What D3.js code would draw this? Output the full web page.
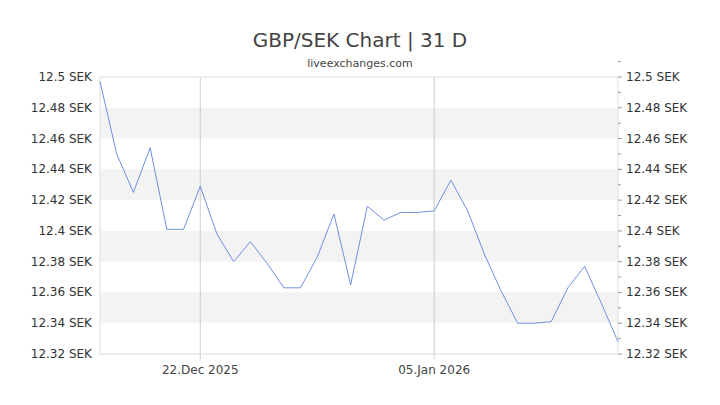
<!DOCTYPE html><html><head><meta charset="utf-8"><script src="https://cdn.jsdelivr.net/npm/d3@7"></script>
<style>body{margin:0;background:#fff;font-family:"DejaVu Sans",sans-serif}</style></head><body><svg id="c" width="720" height="405"></svg>
<script>
const startDate = "2025-12-16";
const values = [12.497,12.450,12.425,12.454,12.401,12.401,12.429,12.398,12.380,12.393,12.379,12.363,12.363,12.383,12.411,12.365,12.416,12.407,12.412,12.412,12.413,12.433,12.413,12.385,12.361,12.340,12.340,12.341,12.363,12.377,12.353,12.328];
const yTicks = [12.32,12.34,12.36,12.38,12.40,12.42,12.44,12.46,12.48,12.50];
const xTickDates = ["2025-12-22","2026-01-05"];
const xTickLabels = ["22.Dec 2025","05.Jan 2026"];
const svg = d3.select("#c");
const L=100,R=618,T=77,B=354;
const p = d3.timeParse("%Y-%m-%d");
const d0 = p(startDate);
const dates = values.map((v,i)=>d3.timeDay.offset(d0,i));
const x = d3.scaleTime().domain([dates[0],dates[dates.length-1]]).range([L,R]);
const y = d3.scaleLinear().domain([12.32,12.5]).range([B,T]);
for(let i=0;i<yTicks.length-1;i++){ if(i%2===1) svg.append("rect").attr("x",L).attr("width",R-L).attr("y",y(yTicks[i+1])).attr("height",y(yTicks[i])-y(yTicks[i+1])).attr("fill","#f3f3f3"); }
svg.append("rect").attr("x",L).attr("y",T).attr("width",R-L).attr("height",B-T).attr("fill","none").attr("stroke","#ddd");
xTickDates.forEach((d,i)=>{const xx=x(p(d));
 svg.append("line").attr("x1",xx).attr("x2",xx).attr("y1",T).attr("y2",B+5).attr("stroke","#ccc");
 svg.append("text").attr("x",xx).attr("y",374).attr("text-anchor","middle").attr("font-size",12).attr("fill","#444").text(xTickLabels[i]);});
yTicks.forEach(t=>{
 svg.append("text").attr("x",L-8).attr("y",y(t)+4).attr("text-anchor","end").attr("font-size",12).attr("fill","#333").text(t.toFixed(2).replace(/0+$/,"").replace(/\.$/,"")+" SEK");
 svg.append("text").attr("x",R+8).attr("y",y(t)+4).attr("font-size",12).attr("fill","#333").text(t.toFixed(2).replace(/0+$/,"").replace(/\.$/,"")+" SEK");
 svg.append("line").attr("x1",R).attr("x2",R+4).attr("y1",y(t)).attr("y2",y(t)).attr("stroke","#999");
 svg.append("line").attr("x1",R).attr("x2",R+3).attr("y1",y(t+0.01)).attr("y2",y(t+0.01)).attr("stroke","#999");
});
svg.append("path").datum(values).attr("fill","none").attr("stroke","#6f8fe0").attr("stroke-width",1)
 .attr("d",d3.line().x((v,i)=>x(dates[i])).y(v=>y(v)));
svg.append("text").attr("x",360).attr("y",47).attr("text-anchor","middle").attr("font-size",20).attr("fill","#444").text("GBP/SEK Chart | 31 D");
svg.append("text").attr("x",360).attr("y",67).attr("text-anchor","middle").attr("font-size",11).attr("fill","#444").text("liveexchanges.com");
</script></body></html>
